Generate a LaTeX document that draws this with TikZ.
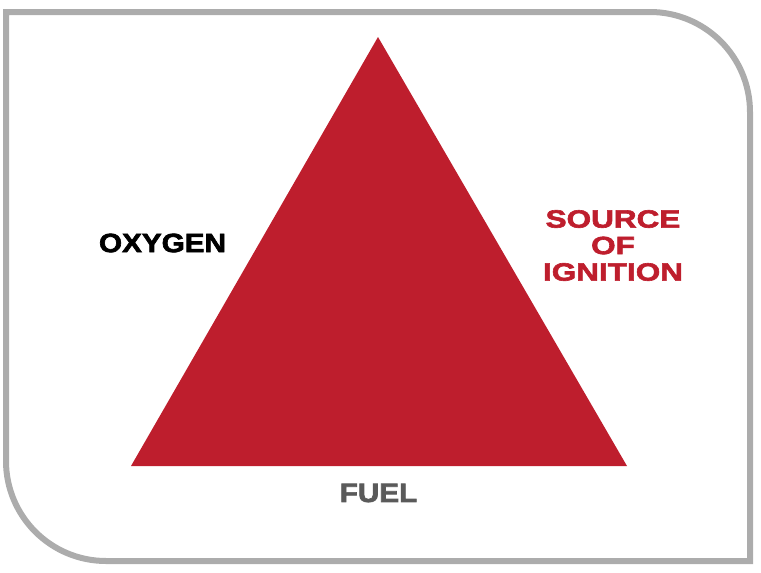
\documentclass[tikz,border=0pt]{standalone}
\usepackage{fontspec}
\newfontfamily\labelfont{Liberation Sans}[FakeStretch=1.12,FakeBold=2.5]
\newfontfamily\widefont{Liberation Sans}[FakeStretch=1.26,FakeBold=2.5]
\definecolor{firered}{RGB}{190,30,45}
\definecolor{framegray}{RGB}{172,172,172}
\definecolor{fuelgray}{RGB}{90,90,90}

\begin{document}
\begin{tikzpicture}[x=1pt,y=-1pt,
  sidelabel/.style={inner sep=0pt,font=\labelfont\bfseries\fontsize{26.5}{28}\selectfont},
  widelabel/.style={inner sep=0pt,align=center,font=\widefont\bfseries\fontsize{25}{26.5}\selectfont}]
\useasboundingbox (0,0) rectangle (761,573);
% frame
\draw[framegray,line width=6pt] (6,12) -- (650,12) arc[start angle=-90,end angle=0,radius=100]
  -- (750,561) -- (106,561) arc[start angle=90,end angle=180,radius=100] -- cycle;
% triangle
\coordinate (apex) at (378,37);
\coordinate (baseleft) at (131,466);
\coordinate (baseright) at (627,466);
\fill[firered] (apex) -- (baseleft) -- (baseright) -- cycle;
% labels
\node[sidelabel,text=black] (oxygen) at (162.5,243) {OXYGEN};
\node[widelabel,text=firered] (ignition) at (613,245.5) {SOURCE\\OF\\IGNITION};
\node[sidelabel,text=fuelgray] (fuel) at (378.5,493) {FUEL};
\end{tikzpicture}
\end{document}
